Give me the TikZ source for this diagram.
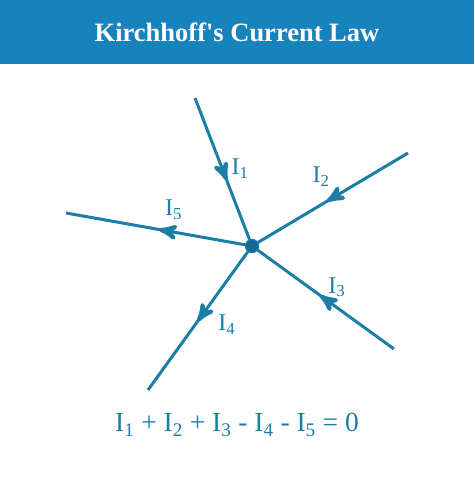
\documentclass[tikz,border=0pt]{standalone}
\usepackage{fontspec}
\setmainfont{Liberation Serif}
\newfontfamily\titlefont[Ligatures=TeXOff]{Liberation Serif}
\usepackage{tikz}
\usetikzlibrary{arrows}
\usetikzlibrary{decorations.markings}
\usetikzlibrary{positioning}

\definecolor{bannerblue}{RGB}{22,131,189}
\definecolor{wireblue}{RGB}{27,126,164}
\definecolor{dotblue}{RGB}{18,104,148}

\tikzset{
  wire/.style={draw=wireblue, line width=3pt, -},
  midarrow/.style={postaction={decorate},
    decoration={markings, mark=at position #1 with {\arrow[wireblue, scale=1.4]{stealth'}}}},
  current/.style={text=wireblue, inner sep=2pt, font=\fontsize{24}{26}\selectfont},
  junction/.style={circle, fill=dotblue, draw=wireblue, line width=1pt,
    minimum size=13pt, inner sep=0pt}
}

\begin{document}
\begin{tikzpicture}[x=1pt, y=-1pt, >=stealth']

  \useasboundingbox (0,0) rectangle (474,486);
  \fill[bannerblue] (0,0) rectangle (474,64);

  \node[text=white, font=\titlefont\bfseries\fontsize{26.5}{30}\selectfont]
    (Title) at (237,32) {Kirchhoff's Current Law};

  \coordinate (In1)  at (195,98);
  \coordinate (In2)  at (408,153);
  \coordinate (In3)  at (394,349);
  \coordinate (Out4) at (148,390);
  \coordinate (Out5) at (66,213);
  \node[junction] (Junction) at (252,246) {};

  \path
    (In1)      edge [wire, midarrow=0.58] node [current, pos=0.5, right=6pt]  {I\textsubscript{1}} (Junction)
    (In2)      edge [wire, midarrow=0.54] node [current, pos=0.58, above=15pt] {I\textsubscript{2}} (Junction)
    (In3)      edge [wire, midarrow=0.54] node [current, pos=0.42, above=7pt]  {I\textsubscript{3}} (Junction)
    (Junction) edge [wire, midarrow=0.50] node [current, pos=0.53, right=20pt] {I\textsubscript{4}} (Out4)
    (Junction) edge [wire, midarrow=0.48] node [current, pos=0.40, above=9pt] {I\textsubscript{5}} (Out5);

  \node[junction] at (Junction) {};

  \node[text=wireblue, font=\fontsize{27.5}{32}\selectfont]
    (Law) at (237,425)
    {I\textsubscript{1} + I\textsubscript{2} + I\textsubscript{3} - I\textsubscript{4} - I\textsubscript{5} = 0};

\end{tikzpicture}
\end{document}
